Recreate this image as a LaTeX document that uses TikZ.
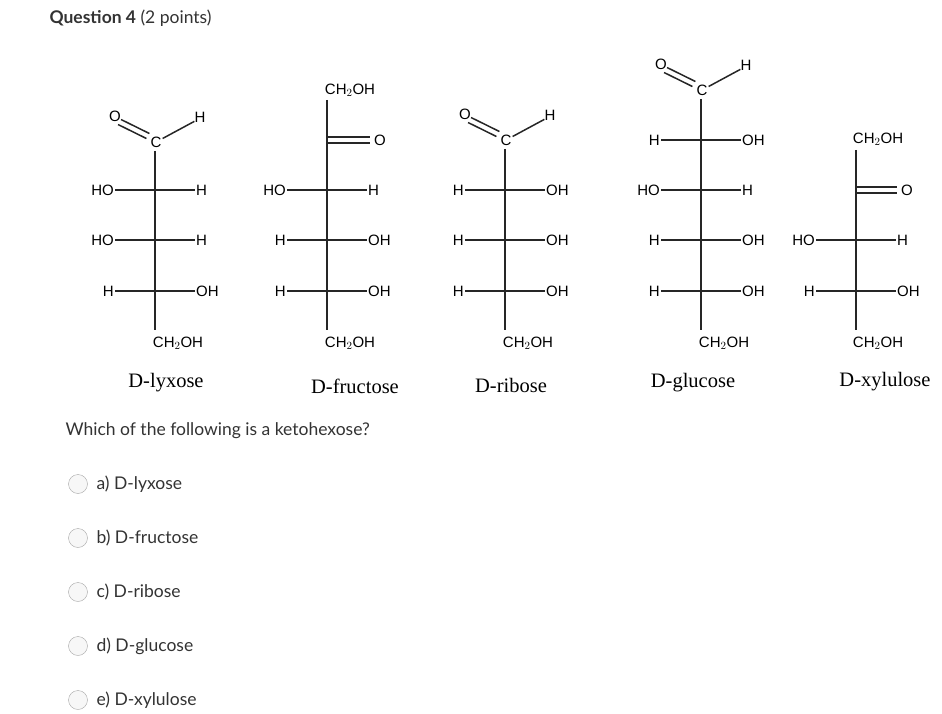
\documentclass[tikz,border=0pt]{standalone}
\usepackage{fontspec}
\setmainfont{Lato}
\newfontfamily\chemf{Liberation Sans}
\newfontfamily\namef{Liberation Serif}
\begin{document}
\begin{tikzpicture}[x=1pt,y=-1pt,
  bond/.style={line width=1.5pt,black!85},
  chem/.style={font=\chemf\fontsize{15}{16}\selectfont,inner sep=0pt},
  sname/.style={font=\namef\fontsize{20.5}{22}\selectfont},
  qtext/.style={font=\fontsize{17.5}{19}\selectfont,anchor=west,text=black!80},
  radio/.style={circle,draw=black!35,fill=black!3,minimum size=19pt,inner sep=0pt}]
\useasboundingbox (0,0) rectangle (942,714);
\newcommand\frow[4]{% x y left right
  \draw[bond] (#1-40,#2) -- (#1+40,#2);
  \node[chem,anchor=east] at (#1-41,#2) {#3};
  \node[chem,anchor=west] at (#1+41,#2) {#4};}
\newcommand\aldtop[2]{% x y of C
  \node[chem] (c#1) at (#1+1,#2) {C};
  \node[chem] (o#1) at (#1-40,#2-26) {O};
  \node[chem] (h#1) at (#1+45,#2-25) {H};
  \draw[bond] ([shift={(0,-2)}]o#1.south east) -- ([shift={(-1,-3)}]c#1.north west);
  \draw[bond] ([shift={(-3,3)}]o#1.south east) -- ([shift={(-4,2)}]c#1.north west);
  \draw[bond] ([shift={(1,2)}]c#1.north east) -- ([shift={(0,-1)}]h#1.south west);
  \draw[bond] (#1,#2+9) -- (#1,#2+35);}
\newcommand\ch[3]{\node[chem] at (#1,#2) {#3};}
% lyxose
\aldtop{155}{142}
\draw[bond] (155,177) -- (155,330);
\frow{155}{190}{HO}{H}\frow{155}{240}{HO}{H}\frow{155}{291}{H}{OH}
\ch{178}{343}{CH$_2$OH}
% fructose
\ch{350}{90}{CH$_2$OH}
\draw[bond] (327,100) -- (327,330);
\draw[bond] (327,137) -- (370,137); \draw[bond] (327,143) -- (370,143);
\ch{380}{140}{O}
\frow{327}{190}{HO}{H}\frow{327}{240}{H}{OH}\frow{327}{291}{H}{OH}
\ch{350}{343}{CH$_2$OH}
% ribose
\aldtop{505}{140}
\draw[bond] (505,175) -- (505,330);
\frow{505}{190}{H}{OH}\frow{505}{240}{H}{OH}\frow{505}{291}{H}{OH}
\ch{528}{343}{CH$_2$OH}
% glucose
\aldtop{701}{90}
\draw[bond] (701,125) -- (701,330);
\frow{701}{140}{H}{OH}\frow{701}{190}{HO}{H}\frow{701}{240}{H}{OH}\frow{701}{291}{H}{OH}
\ch{724}{343}{CH$_2$OH}
% xylulose
\ch{878}{139}{CH$_2$OH}
\draw[bond] (856,150) -- (856,330);
\draw[bond] (856,187) -- (897,187); \draw[bond] (856,193) -- (897,193);
\ch{907}{190}{O}
\frow{856}{240}{HO}{H}\frow{856}{291}{H}{OH}
\ch{878}{343}{CH$_2$OH}
% names
\node[sname] at (166,383) {D-lyxose};
\node[sname] at (355,386) {D-fructose};
\node[sname] at (511,385) {D-ribose};
\node[sname] at (693,383) {D-glucose};
\node[sname] at (885,382) {D-xylulose};
% question
\node[qtext] at (46,18) {\textbf{Question 4} (2 points)};
\node[qtext] at (62,431) {Which of the following is a ketohexose?};
\foreach \y/\t [count=\i] in {484/a) D-lyxose,538/b) D-fructose,592/c) D-ribose,646/d) D-glucose,700/e) D-xylulose}{
  \node[radio] (r\i) at (78,\y) {};
  \node[qtext] (l\i) at (93,\y) {\t};}
\end{tikzpicture}
\end{document}
